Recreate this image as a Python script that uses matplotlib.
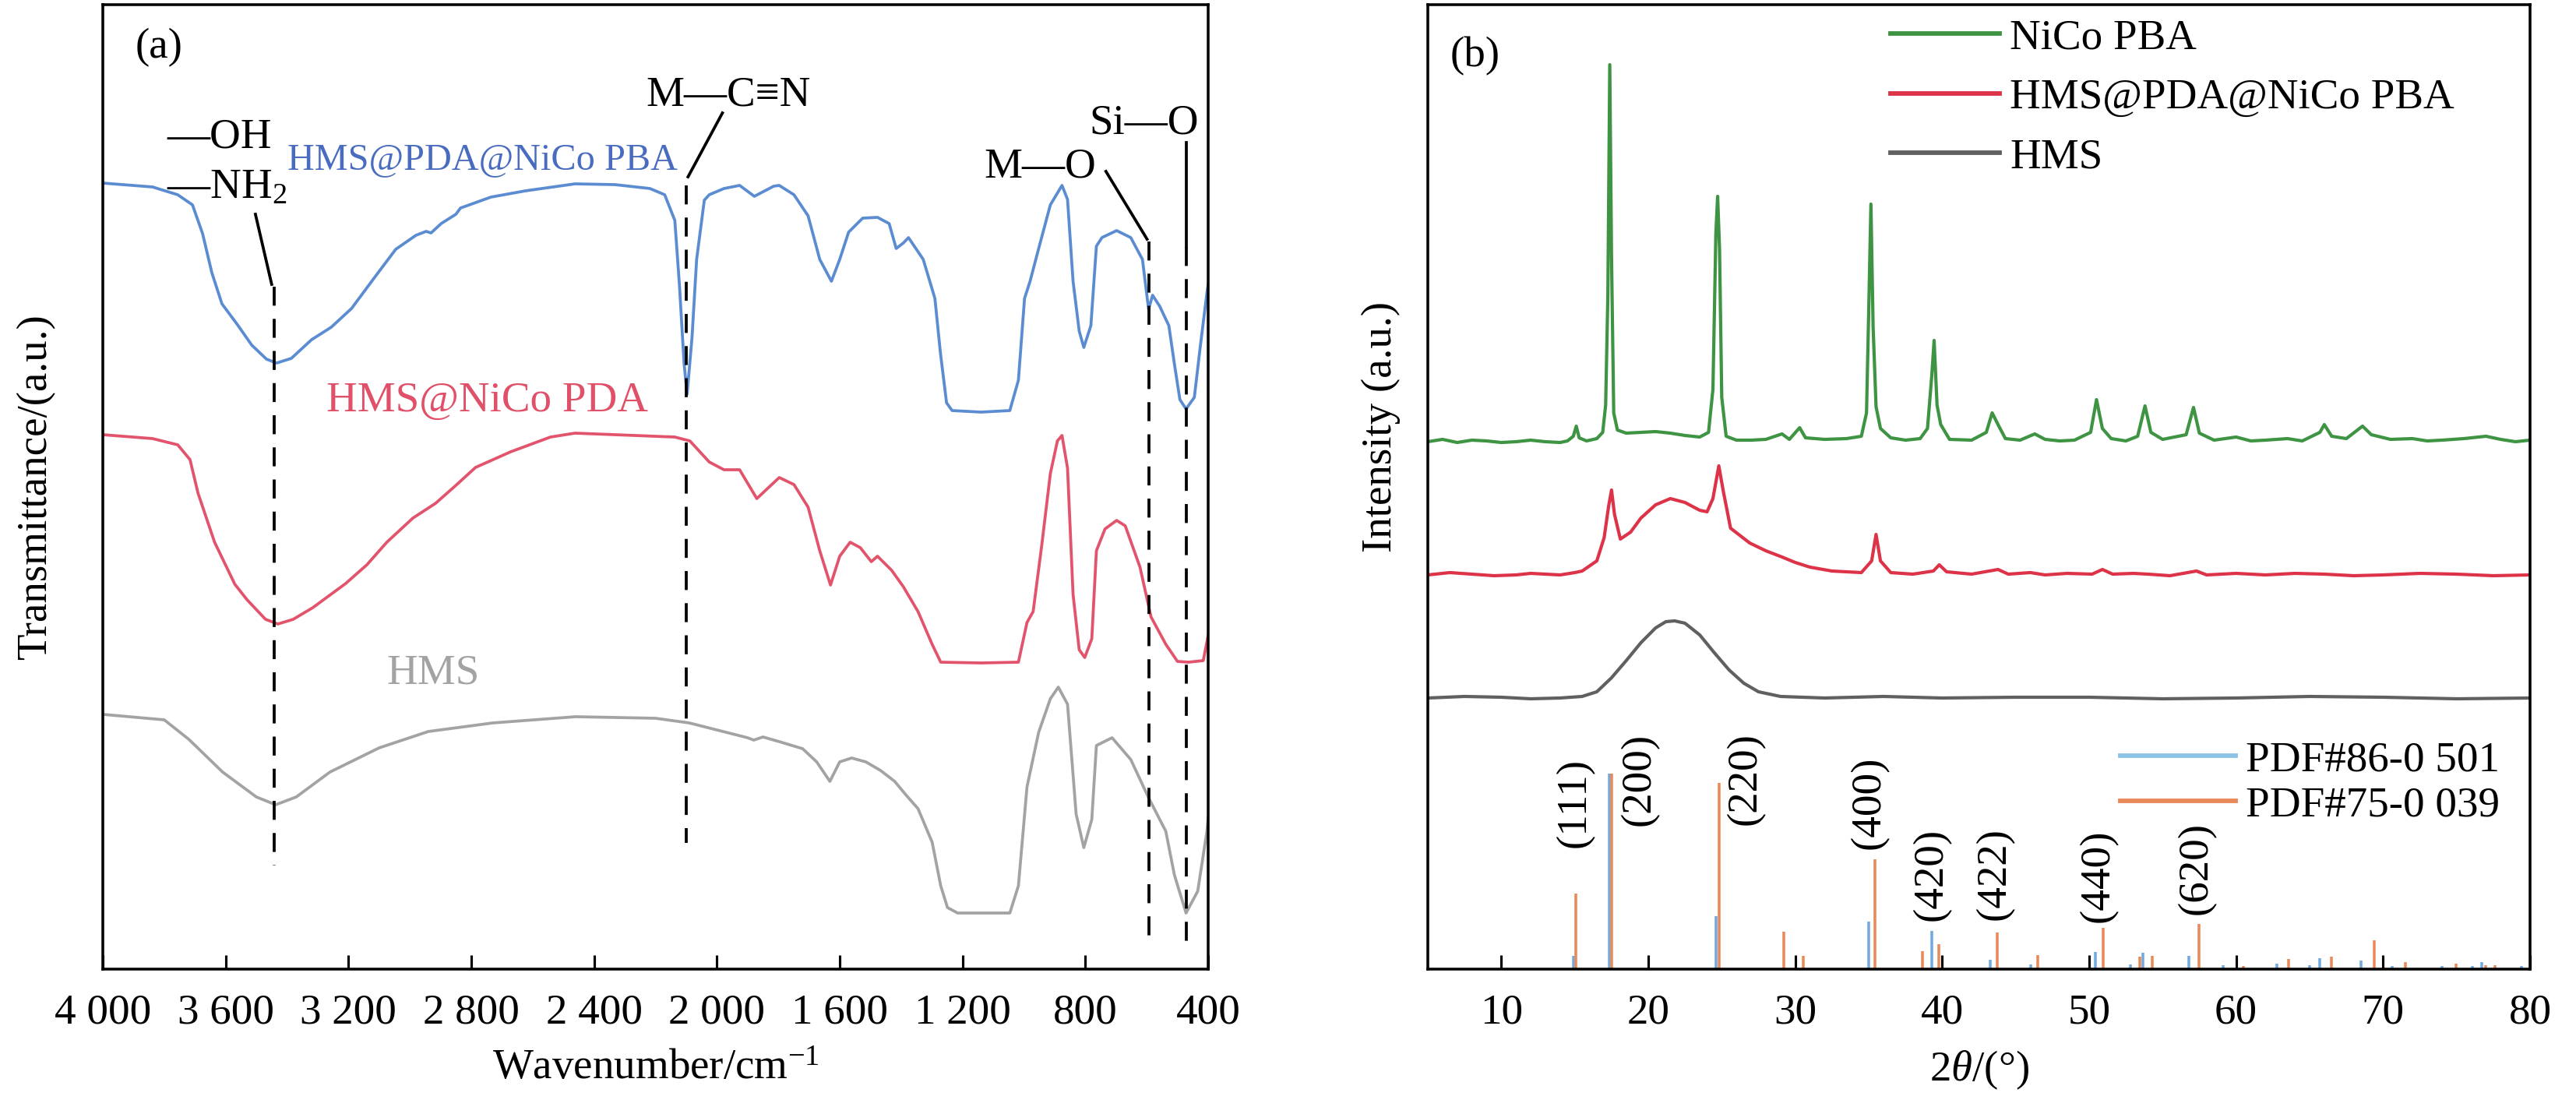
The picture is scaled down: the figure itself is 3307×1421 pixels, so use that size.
import matplotlib
matplotlib.use('Agg')
import matplotlib.pyplot as plt

plt.rcParams['font.family'] = ['Liberation Serif', 'DejaVu Serif']
plt.rcParams['mathtext.fontset'] = 'custom'
plt.rcParams['mathtext.rm'] = 'Liberation Serif'
plt.rcParams['mathtext.it'] = 'Liberation Serif:italic'
plt.rcParams['font.size'] = 13.2

# ---------------- Panel (a): FTIR ----------------
wn_blue = [4000, 3838, 3756, 3708, 3675, 3645, 3612, 3563, 3515, 3467, 3434, 3386, 3320, 3256,
           3190, 3109, 3046, 2980, 2947, 2931, 2898, 2850, 2835, 2736, 2624, 2462, 2332, 2218,
           2170, 2137, 2122, 2107, 2097, 2081, 2066, 2041, 2025, 1977, 1926, 1878, 1815, 1797,
           1749, 1703, 1665, 1627, 1600, 1571, 1525, 1477, 1439, 1416, 1393, 1376, 1328, 1290,
           1272, 1252, 1234, 1140, 1046, 1018, 998, 980, 952, 914, 876, 858, 840, 820, 805, 782,
           764, 746, 698, 652, 614, 594, 581, 558, 528, 510, 492, 472, 445, 426, 404, 400]
t_blue = [1009, 1004, 994, 981, 944, 894, 854, 828, 801, 783, 778, 784, 808, 824,
          848, 891, 924, 942, 947, 945, 957, 969, 977, 991, 999, 1008, 1007, 1002,
          994, 961, 878, 778, 738, 811, 911, 987, 994, 1002, 1006, 992, 1005, 1006,
          994, 967, 911, 883, 911, 946, 964, 965, 957, 925, 932, 939, 911, 861,
          791, 727, 717, 715, 717, 756, 861, 883, 925, 981, 1006, 988, 883, 819, 798, 826,
          928, 939, 948, 939, 911, 847, 865, 851, 826, 777, 731, 719, 734, 798, 868, 879]

wn_red = [4000, 3838, 3756, 3716, 3690, 3636, 3570, 3530, 3470, 3430, 3380, 3316, 3209, 3140,
          3075, 2990, 2916, 2850, 2786, 2672, 2542, 2462, 2332, 2137, 2088, 2025, 1977, 1926,
          1870, 1797, 1749, 1703, 1665, 1630, 1600, 1566, 1533, 1497, 1477, 1431, 1393, 1345,
          1299, 1271, 1140, 1018, 990, 970, 942, 914, 891, 876, 858, 840, 820, 802, 779, 764,
          736, 698, 670, 622, 586, 538, 500, 464, 416, 400]
t_red = [686, 681, 673, 654, 611, 548, 494, 474, 449, 443, 449, 464, 495, 519,
         548, 579, 598, 621, 644, 664, 683, 688, 686, 683, 678, 651, 641, 641,
         604, 631, 622, 593, 537, 493, 530, 548, 541, 523, 530, 512, 491, 459,
         417, 394, 393, 394, 445, 459, 544, 636, 678, 685, 643, 481, 410, 400, 424, 537,
         565, 576, 569, 516, 452, 417, 395, 394, 396, 428]

wn_gray = [4000, 3800, 3720, 3610, 3500, 3437, 3370, 3260, 3100, 2940, 2730, 2460, 2200, 2090,
           1980, 1900, 1880, 1850, 1797, 1721, 1675, 1632, 1600, 1561, 1515, 1467, 1421, 1383,
           1345, 1299, 1271, 1249, 1216, 1046, 1018, 990, 952, 914, 888, 858, 830, 805, 779,
           764, 713, 652, 594, 538, 510, 472, 434, 404, 400]
t_gray = [327, 320, 295, 253, 221, 211, 221, 253, 284, 305, 316, 324, 322, 316,
          305, 297, 294, 298, 292, 283, 266, 241, 266, 271, 266, 255, 241, 223,
          206, 163, 107, 79, 72, 72, 107, 234, 304, 347, 362, 340, 199, 156, 192,
          287, 297, 269, 220, 177, 121, 72, 100, 177, 194]

ftir_ticks = [4000, 3600, 3200, 2800, 2400, 2000, 1600, 1200, 800, 400]
ftir_ticklabels = ['4 000', '3 600', '3 200', '2 800', '2 400', '2 000', '1 600', '1 200', '800', '400']

# ---------------- Panel (b): XRD ----------------
tt_green = [5.0, 6, 7, 8, 9, 10, 11, 12, 13, 14, 14.5, 14.9, 15.1, 15.3, 15.8, 16.5, 16.9, 17.1,
            17.25, 17.38, 17.5, 17.65, 17.9, 18.5, 19.5, 20.5, 21.5, 22.5, 23.5, 24.1, 24.4,
            24.6, 24.72, 24.85, 25.0, 25.3, 26, 27, 28, 29.1, 29.6, 30.3, 30.7, 32, 33.5, 34.5,
            34.85, 35.0, 35.15, 35.3, 35.5, 35.8, 36.5, 37.5, 38.5, 39.0, 39.3, 39.45, 39.65,
            39.9, 40.5, 42, 43.0, 43.4, 43.8, 44.3, 45.3, 46.3, 47, 48, 49, 50.1, 50.5, 50.9,
            51.5, 52.5, 53.3, 53.8, 54.2, 55, 56.6, 57.1, 57.5, 58.5, 60, 61, 62, 63.5, 64.5,
            65.7, 66.0, 66.5, 67.5, 68.6, 69.2, 70.5, 72, 73, 74, 75.5, 77, 78, 79, 80]
i_green = [677, 680, 676, 679, 678, 676, 677, 679, 677, 676, 678, 684, 697, 682, 678, 681,
           689, 724, 864, 1161, 914, 714, 692, 688, 689, 690, 688, 685, 683, 689, 744,
           944, 992, 924, 734, 684, 679, 679, 680, 687, 680, 695, 682, 680, 681, 684,
           714, 844, 982, 824, 722, 694, 682, 679, 681, 694, 764, 807, 724,
           699, 680, 679, 689, 714, 699, 681, 679, 687, 680, 678, 679, 689, 731, 694,
           681, 678, 684, 723, 689, 680, 686, 721, 688, 679, 683, 678, 679, 681, 678,
           689, 699, 684, 681, 697, 686, 680, 681, 678, 679, 681, 684, 680, 677, 679]

tt_red = [5, 6.5, 8, 9.5, 11, 12, 13, 14, 15, 15.5, 16.5, 17.0, 17.3, 17.5, 17.7, 18.1, 18.8,
          19.5, 20.5, 21.5, 22.5, 23.5, 24.0, 24.4, 24.8, 25.1, 25.6, 26.9, 28, 29.1, 30, 31,
          32.5, 34.5, 35.2, 35.5, 35.8, 36.5, 38, 39.4, 39.8, 40.3, 42, 43.8, 44.5, 46, 47,
          48.5, 50.2, 50.9, 51.6, 53, 54, 55.5, 57.3, 58, 60, 62, 64, 66, 68, 70, 72.5, 75,
          77.5, 80]
i_red = [506, 509, 507, 505, 506, 508, 507, 506, 509, 511, 524, 554, 594, 615, 584, 552, 561,
         579, 596, 604, 599, 589, 587, 604, 646, 614, 566, 547, 537, 529, 522, 516,
         511, 509, 524, 558, 524, 509, 507, 511, 519, 510, 507, 513, 507, 509, 506,
         508, 507, 513, 507, 508, 507, 505, 511, 506, 508, 506, 508, 507, 505, 506, 508, 507,
         505, 506]

tt_gray = [5, 7.5, 10, 12, 14, 15.5, 16.5, 17.5, 18.5, 19.5, 20.5, 21.2, 21.8, 22.5, 23.5, 24.5,
           25.5, 26.5, 27.5, 29, 32, 36, 40, 45, 50, 55, 60, 65, 70, 75, 80]
i_gray = [348, 350, 349, 347, 348, 350, 356, 374, 396, 419, 438, 446, 447, 444, 429, 406,
          384, 367, 356, 350, 348, 350, 348, 349, 349, 347, 348, 350, 349, 347, 348]

pdf86_pos = [14.9, 17.33, 24.59, 34.99, 39.28, 43.27, 46.0, 50.4, 52.8, 53.65, 56.8, 59.1,
             62.8, 65.0, 65.7, 68.5, 70.6, 74.0, 76.1, 76.7, 79.4]
pdf86_int = [17, 251, 68, 61, 49, 12, 6, 22, 6, 21, 17, 5, 7, 5, 14, 11, 4, 4, 4, 9, 4]

pdf75_pos = [15.08, 17.49, 24.82, 29.2, 30.53, 35.42, 38.65, 39.76, 43.74, 46.5, 50.95, 53.45,
             54.3, 57.47, 60.5, 63.55, 66.5, 69.4, 71.5, 74.95, 77.0, 77.6]
pdf75_int = [97, 251, 239, 48, 17, 141, 23, 32, 47, 18, 53, 16, 17, 58, 4, 13, 16, 37, 9, 7, 5, 5]

hkl_labels = ['(111)', '(200)', '(220)', '(400)', '(420)', '(422)', '(440)', '(620)']
hkl_x = [15.02, 19.41, 26.62, 35.05, 39.29, 43.58, 50.63, 57.3]
hkl_y = [214, 244, 244, 214, 122, 122, 120, 130]

xrd_ticks = [10, 20, 30, 40, 50, 60, 70, 80]

# ---------------- colours ----------------
c_blue, c_red, c_gray = '#5B8CD2', '#E2536C', '#A3A3A3'
c_blue_txt, c_red_txt = '#4A6CC0', '#E05068'
c_green, c_xred, c_xgray = '#3E9443', '#DD3349', '#606060'
c_pdf86, c_pdf75 = '#72AADD', '#E8895A'

W, H = 3307, 1421
fig = plt.figure(figsize=(W / 300, H / 300), dpi=300)
ax1 = fig.add_axes([132 / W, (H - 1244) / H, (1551 - 132) / W, (1244 - 6) / H])
ax2 = fig.add_axes([1833 / W, (H - 1244) / H, (3248 - 1833) / W, (1244 - 6) / H])

for ax in (ax1, ax2):
    for s in ax.spines.values():
        s.set_linewidth(0.85)
    ax.tick_params(axis='x', direction='in', length=4.3, width=0.75, pad=7.5,
                   top=False, labelsize=13.2)
    ax.set_yticks([])

# ---- panel a ----
lw = 0.9
ax1.plot(wn_blue, t_blue, color=c_blue, lw=lw)
ax1.plot(wn_red, t_red, color=c_red, lw=lw)
ax1.plot(wn_gray, t_gray, color=c_gray, lw=lw)
ax1.set_xlim(4000, 400)
ax1.set_ylim(0, 1238)
ax1.set_xticks(ftir_ticks)
ax1.set_xticklabels(ftir_ticklabels)
ax1.set_xlabel(r'Wavenumber/cm$^{-1}$', labelpad=5)
ax1.set_ylabel('Transmittance/(a.u.)')
ax1.yaxis.set_label_coords(-0.043, 0.5)

dash = (0, (6.5, 4.5))
kw = dict(color='black', lw=0.9)
ax1.plot([3442, 3442], [876, 133], ls=dash, **kw)
ax1.plot([3503, 3450], [969, 879], **kw)
ax1.plot([2099, 2099], [1006, 162], ls=dash, **kw)
ax1.plot([1982, 2094], [1099, 1017], **kw)
ax1.plot([594, 594], [934, 37], ls=dash, **kw)
ax1.plot([733, 599], [1024, 937], **kw)
ax1.plot([470, 470], [1061, 927], **kw)
ax1.plot([470, 470], [927, 26], ls=dash, **kw)

ax1.text(3817, 1183, '(a)', ha='center', va='center')
ax1.text(3792, 1054, '—OH', ha='left', va='baseline')
ax1.text(3792, 989, r'—NH$_2$', ha='left', va='baseline')
ax1.text(3398, 1027, 'HMS@PDA@NiCo PBA', ha='left', va='baseline', color=c_blue_txt, fontsize=11.6)
ax1.text(3272, 716, 'HMS@NiCo PDA', ha='left', va='baseline', color=c_red_txt)
ax1.text(3076, 366, 'HMS', ha='left', va='baseline', color=c_gray)
ax1.text(1962, 1109, 'M—C≡N', ha='center', va='baseline')
ax1.text(947, 1016, 'M—O', ha='center', va='baseline')
ax1.text(609, 1072, 'Si—O', ha='center', va='baseline')

# ---- panel b ----
lg, = ax2.plot(tt_green, i_green, color=c_green, lw=1.0, label='NiCo PBA')
lr, = ax2.plot(tt_red, i_red, color=c_xred, lw=1.0, label='HMS@PDA@NiCo PBA')
lgr, = ax2.plot(tt_gray, i_gray, color=c_xgray, lw=1.0, label='HMS')
ax2.vlines(pdf86_pos, 0, pdf86_int, color=c_pdf86, lw=0.85)
ax2.vlines(pdf75_pos, 0, pdf75_int, color=c_pdf75, lw=0.85)
ax2.set_xlim(5, 80)
ax2.set_ylim(0, 1238)
ax2.set_xticks(xrd_ticks)
ax2.set_xlabel(r'2$\it{\theta}$/(°)', labelpad=5)
ax2.set_ylabel('Intensity (a.u.)')
ax2.yaxis.set_label_coords(-0.025, 0.562)
ax2.text(8.23, 1172, '(b)', ha='center', va='center')
for lab, x, y in zip(hkl_labels, hkl_x, hkl_y):
    ax2.text(x, y, lab, rotation=90, ha='center', va='center')

leg1 = ax2.legend(handles=[lg, lr, lgr], loc='upper left', bbox_to_anchor=(0.4198, 0.9855),
                  frameon=False, borderpad=0, borderaxespad=0, labelspacing=0.47,
                  handlelength=2.55, handletextpad=0.24, fontsize=13.2)
for h in leg1.legend_handles:
    h.set_linewidth(1.4)
ax2.add_artist(leg1)
h86 = plt.Line2D([], [], color='#8EC3E8', lw=1.4)
h75 = plt.Line2D([], [], color=c_pdf75, lw=1.4)
ax2.legend(handles=[h86, h75], labels=['PDF#86-0 501', 'PDF#75-0 039'], loc='upper left',
           bbox_to_anchor=(0.628, 0.2367), frameon=False, borderpad=0, borderaxespad=0,
           labelspacing=0.13, handlelength=2.69, handletextpad=0.24, fontsize=13.2)

fig.savefig('out.png', dpi=300)
